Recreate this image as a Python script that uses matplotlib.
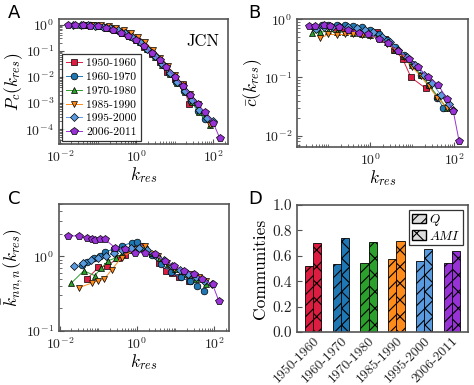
import matplotlib
matplotlib.use("Agg")
import matplotlib.pyplot as plt
from matplotlib.patches import Patch
from matplotlib.ticker import LogLocator, NullFormatter

plt.rcParams['font.family'] = 'serif'
plt.rcParams['font.serif'] = ['cmr10', 'DejaVu Serif']
plt.rcParams['mathtext.fontset'] = 'cm'
plt.rcParams['axes.formatter.use_mathtext'] = True
plt.rcParams['axes.unicode_minus'] = True
plt.rcParams['hatch.linewidth'] = 0.8

periods = ['1950-1960', '1960-1970', '1970-1980', '1985-1990', '1995-2000', '2006-2011']
colors = ['#dc1c40', '#1f78b4', '#2ca02c', '#ff8c1a', '#5a9be0', '#9932d6']
markers = ['s', 'o', '^', 'v', 'D', 'p']
msizes = [4.6, 4.8, 4.8, 4.8, 3.9, 5.3]

# Panel A: P_c(k_res)
pc_x = [
    [0.045, 0.07, 0.11, 0.17, 0.27, 0.42, 0.65, 1.0, 1.6, 2.5, 4.0, 6.3, 10, 16, 24],
    [0.04, 0.06, 0.09, 0.14, 0.22, 0.34, 0.52, 0.8, 1.2, 1.9, 3.0, 4.6, 7.0, 11, 17, 26, 40, 60],
    [0.035, 0.055, 0.085, 0.13, 0.2, 0.32, 0.5, 0.78, 1.2, 1.9, 3.0, 4.7, 7.4, 11.5, 18, 28, 44, 85],
    [0.05, 0.08, 0.12, 0.19, 0.3, 0.46, 0.72, 1.1, 1.7, 2.7, 4.2, 6.5, 10, 16, 25, 40, 60, 85],
    [0.022, 0.035, 0.055, 0.085, 0.13, 0.2, 0.32, 0.5, 0.78, 1.2, 1.9, 3.0, 4.7, 7.4, 11.5, 18, 28, 44, 70, 100],
    [0.016, 0.025, 0.04, 0.06, 0.1, 0.16, 0.25, 0.4, 0.6, 1.0, 1.6, 2.5, 4.0, 6.0, 10, 16, 25, 40, 60, 100, 150],
]
pc_y = [
    [1.0, 0.95, 0.88, 0.77, 0.63, 0.49, 0.37, 0.25, 0.14, 0.075, 0.036, 0.016, 0.0085, 0.0048, 0.0009],
    [1.0, 0.97, 0.93, 0.85, 0.73, 0.59, 0.46, 0.33, 0.21, 0.12, 0.062, 0.03, 0.014, 0.0065, 0.0028, 0.0012, 0.0005, 0.00024],
    [1.0, 0.98, 0.94, 0.87, 0.77, 0.63, 0.49, 0.35, 0.22, 0.12, 0.06, 0.028, 0.013, 0.0058, 0.0026, 0.0011, 0.00045, 0.00014],
    [1.0, 0.98, 0.94, 0.88, 0.78, 0.64, 0.49, 0.34, 0.21, 0.11, 0.055, 0.026, 0.012, 0.0052, 0.0022, 0.0009, 0.0004, 0.00014],
    [1.0, 0.99, 0.96, 0.92, 0.85, 0.74, 0.6, 0.46, 0.33, 0.21, 0.12, 0.062, 0.03, 0.014, 0.0064, 0.0029, 0.0013, 0.00056, 0.00028, 0.0002],
    [1.0, 0.99, 0.97, 0.93, 0.86, 0.75, 0.62, 0.48, 0.37, 0.25, 0.15, 0.085, 0.045, 0.024, 0.010, 0.0045, 0.0021, 0.0009, 0.00045, 0.00018, 0.000045],
]

# Panel B: clustering c(k_res)
c_x = [
    [0.15, 0.24, 0.38, 0.6, 0.95, 1.45, 2.3, 3.7, 5.9, 9.4, 21],
    [0.045, 0.07, 0.1, 0.16, 0.25, 0.4, 0.63, 1.0, 1.6, 2.5, 4.0, 6.3, 10, 16, 25, 40, 55],
    [0.042, 0.065, 0.1, 0.16, 0.25, 0.4, 0.63, 1.0, 1.6, 2.5, 4.0, 6.3, 10, 16, 25, 40, 67],
    [0.065, 0.1, 0.16, 0.25, 0.4, 0.63, 1.0, 1.6, 2.5, 4.0, 6.3, 10, 16, 25, 40, 67],
    [0.05, 0.08, 0.12, 0.19, 0.3, 0.48, 0.75, 1.2, 1.9, 3.0, 4.7, 7.5, 12, 19, 30, 48, 75, 96],
    [0.034, 0.049, 0.078, 0.11, 0.18, 0.3, 0.53, 0.91, 1.6, 2.7, 4.7, 8.2, 14, 24, 42, 67, 96, 132],
]
c_y = [
    [0.68, 0.7, 0.66, 0.63, 0.61, 0.6, 0.45, 0.3, 0.21, 0.1, 0.065],
    [0.72, 0.8, 0.78, 0.8, 0.78, 0.76, 0.72, 0.66, 0.55, 0.44, 0.33, 0.24, 0.17, 0.11, 0.075, 0.045, 0.03],
    [0.57, 0.6, 0.62, 0.6, 0.6, 0.58, 0.56, 0.54, 0.48, 0.4, 0.3, 0.23, 0.16, 0.11, 0.075, 0.048, 0.03],
    [0.47, 0.55, 0.54, 0.55, 0.55, 0.54, 0.52, 0.46, 0.38, 0.29, 0.22, 0.15, 0.105, 0.07, 0.045, 0.03],
    [0.68, 0.72, 0.74, 0.73, 0.72, 0.7, 0.66, 0.6, 0.5, 0.4, 0.3, 0.22, 0.16, 0.11, 0.08, 0.05, 0.035, 0.028],
    [0.75, 0.75, 0.78, 0.75, 0.73, 0.66, 0.59, 0.55, 0.46, 0.39, 0.28, 0.21, 0.15, 0.1, 0.075, 0.042, 0.026, 0.008],
]

# Panel C: k_nn,n(k_res)
knn_x = [
    [0.051, 0.1, 0.17, 0.33, 0.5, 0.73, 1.3, 2.4, 3.8, 5.7, 8, 12.6, 23],
    [0.037, 0.05, 0.076, 0.11, 0.15, 0.25, 0.4, 0.73, 1.0, 1.6, 2.5, 4.3, 7.5, 14, 24, 37, 55],
    [0.02, 0.042, 0.08, 0.12, 0.18, 0.28, 0.4, 0.7, 1.1, 1.7, 2.4, 4.0, 6.3, 10, 20, 35, 62],
    [0.031, 0.069, 0.1, 0.14, 0.22, 0.4, 0.89, 1.6, 3.5, 6, 9.4, 15, 25, 40, 62],
    [0.023, 0.04, 0.065, 0.1, 0.16, 0.26, 0.42, 0.7, 1.1, 1.8, 3.0, 5.0, 8, 13, 21, 34, 55, 90],
    [0.016, 0.031, 0.051, 0.069, 0.084, 0.11, 0.15, 0.27, 0.49, 0.89, 1.6, 2.9, 5.2, 9.4, 17, 31, 50, 92, 134],
]
knn_y = [
    [0.50, 0.71, 0.74, 0.96, 1.05, 1.24, 1.37, 1.06, 0.8, 0.64, 0.6, 0.52, 0.47],
    [0.76, 0.85, 0.96, 1.02, 1.14, 1.25, 1.37, 1.52, 1.55, 1.3, 1.05, 0.78, 0.62, 0.52, 0.46, 0.40, 0.34],
    [0.44, 0.64, 0.55, 0.7, 0.87, 0.95, 1.06, 1.2, 1.3, 1.25, 1.12, 0.95, 0.78, 0.68, 0.58, 0.5, 0.42],
    [0.38, 0.44, 0.47, 0.49, 0.66, 0.96, 1.24, 1.37, 1.01, 0.8, 0.67, 0.62, 0.58, 0.52, 0.47],
    [0.74, 0.8, 0.9, 0.95, 1.0, 1.1, 1.2, 1.3, 1.3, 1.2, 1.05, 0.9, 0.75, 0.65, 0.58, 0.52, 0.46, 0.42],
    [1.87, 1.87, 1.77, 1.72, 1.65, 1.68, 1.68, 1.3, 1.24, 1.12, 1.12, 1.06, 0.87, 0.74, 0.64, 0.58, 0.49, 0.42, 0.25],
]

# Panel D: community quality
Q_vals = [0.52, 0.535, 0.54, 0.575, 0.56, 0.545]
AMI_vals = [0.70, 0.74, 0.705, 0.715, 0.65, 0.64]

W, H = 474, 385
fig = plt.figure(figsize=(W / 100, H / 100), dpi=100)

def rect(l, t, r, b):
    return [l / W, 1 - b / H, (r - l) / W, (b - t) / H]

axA = fig.add_axes(rect(59, 19, 228, 144))
axB = fig.add_axes(rect(297, 19, 468, 147))
axC = fig.add_axes(rect(59, 204, 229, 331))
axD = fig.add_axes(rect(297, 205, 468, 332))

spine_col = '#555555'

def style(ax, log=True):
    for s in ax.spines.values():
        s.set_color(spine_col)
        s.set_linewidth(1.2)
    ax.tick_params(which='both', direction='in', colors=spine_col, labelcolor='#222222',
                   labelsize=10)
    ax.tick_params(which='major', length=3.5)
    ax.tick_params(which='minor', length=2)
    if log:
        ax.set_xscale('log')
        ax.set_yscale('log')
        ax.xaxis.set_major_locator(LogLocator(base=100.0, numticks=10))
        ax.xaxis.set_minor_locator(LogLocator(base=10.0, subs=[1, 2, 3, 4, 5, 6, 7, 8, 9], numticks=30))
        ax.xaxis.set_minor_formatter(NullFormatter())
        ax.yaxis.set_major_locator(LogLocator(base=10.0, numticks=12))
        ax.yaxis.set_minor_locator(LogLocator(base=10.0, subs=[2, 3, 4, 5, 6, 7, 8, 9], numticks=30))
        ax.yaxis.set_minor_formatter(NullFormatter())

def draw_series(ax, xs, ys, label=True):
    for i in range(6):
        ax.plot(xs[i], ys[i], color=colors[i], marker=markers[i], ms=msizes[i],
                mec='black', mew=0.5, lw=0.7, mfc=colors[i],
                label=periods[i] if label else None)

lab_fs = 12.5

style(axA)
draw_series(axA, pc_x, pc_y)
axA.set_xlim(0.0095, 245)
axA.set_xlabel(r'$k_{res}$', fontsize=lab_fs, labelpad=0)
axA.set_ylabel(r'$P_c(k_{res})$', fontsize=lab_fs, labelpad=0)
axA.text(0.95, 0.82, 'JCN', transform=axA.transAxes, ha='right', va='center', fontsize=12)
leg = axA.legend(loc='lower left', fontsize=8.3, frameon=True, fancybox=False,
                 edgecolor='black', handlelength=1.4, handletextpad=0.35,
                 borderpad=0.35, labelspacing=0.32, borderaxespad=0.25)
leg.get_frame().set_linewidth(0.9)

style(axB)
draw_series(axB, c_x, c_y, label=False)
axB.set_xlim(0.018, 215)
axB.set_xlabel(r'$k_{res}$', fontsize=lab_fs, labelpad=0)
axB.set_ylabel(r'$\bar{c}(k_{res})$', fontsize=lab_fs, labelpad=0)

style(axC)
draw_series(axC, knn_x, knn_y, label=False)
axC.set_xlim(0.0095, 245)
axC.set_ylim(0.1, 5)
axC.set_xlabel(r'$k_{res}$', fontsize=lab_fs, labelpad=0)
axC.set_ylabel(r'$\bar{k}_{nn,n}(k_{res})$', fontsize=lab_fs, labelpad=0)

style(axD, log=False)
pos = list(range(len(periods)))
bw = 0.3
axD.bar([p - bw / 2 for p in pos], Q_vals, width=bw, color=colors, edgecolor='black',
        hatch='///', linewidth=0.6)
axD.bar([p + bw / 2 for p in pos], AMI_vals, width=bw, color=colors, edgecolor='black',
        hatch='xx', linewidth=0.6)
axD.set_ylim(0, 1.0)
axD.set_yticks([0.0, 0.2, 0.4, 0.6, 0.8, 1.0])
axD.set_yticklabels(['0.0', '0.2', '0.4', '0.6', '0.8', '1.0'], fontsize=11)
axD.set_xticks(pos)
axD.set_xticklabels(periods, rotation=45, ha='right', rotation_mode='anchor', fontsize=9.8)
axD.tick_params(axis='x', length=0, pad=2)
axD.set_ylabel('Communities', fontsize=12.5, labelpad=3)
handles = [Patch(facecolor='#dddddd', edgecolor='black', hatch='///', label=r'$Q$'),
           Patch(facecolor='#dddddd', edgecolor='black', hatch='xx', label=r'$AMI$')]
legD = axD.legend(handles=handles, loc='upper right', fontsize=9.5, frameon=True,
                  fancybox=False, edgecolor='black', handlelength=1.1, handleheight=0.75,
                  handletextpad=0.25, borderpad=0.2, labelspacing=0.1, borderaxespad=0.35)
legD.get_frame().set_linewidth(0.9)

for lab, x, y in [('A', 8, 4), ('B', 248, 4), ('C', 8, 190), ('D', 248, 190)]:
    fig.text(x / W, 1 - y / H, lab, fontsize=13, family='DejaVu Sans', ha='left', va='top')

fig.savefig('out.png', dpi=100)
